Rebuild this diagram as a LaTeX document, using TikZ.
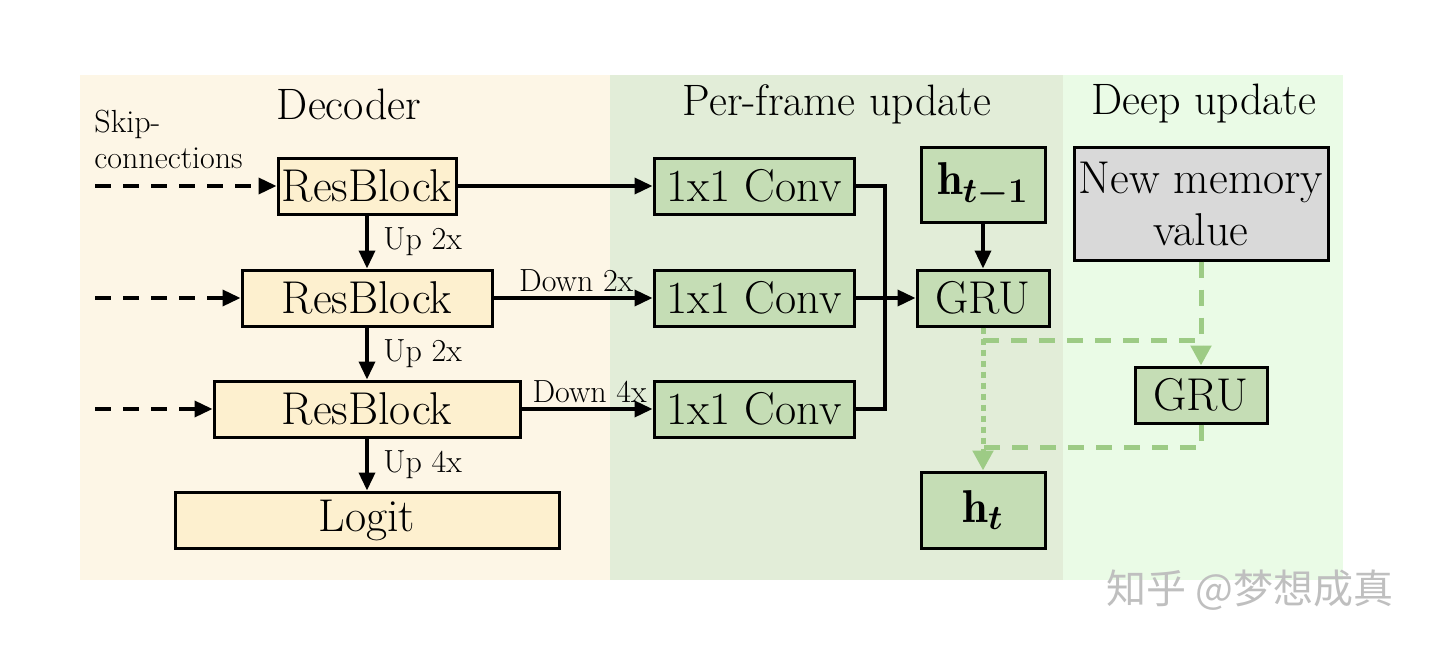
\documentclass[tikz,border=0pt]{standalone}
\usepackage{amsmath,bm}
\usepackage{fontspec}
\newfontfamily\cjk{Noto Sans CJK SC}
\usetikzlibrary{arrows.meta}
\definecolor{decbg}{HTML}{FDF6E6}
\definecolor{perbg}{HTML}{E2EDD8}
\definecolor{deepbg}{HTML}{EAFBE6}
\definecolor{rbfill}{HTML}{FDF0CF}
\definecolor{gfill}{HTML}{C5DDB5}
\definecolor{gline}{HTML}{9DCB85}
\begin{document}
\begin{tikzpicture}[x=0.5pt,y=-0.5pt,
 box/.style={draw=black,line width=1.5pt,inner sep=0pt,font=\fontsize{23}{26}\selectfont},
 rb/.style={box,fill=rbfill},
 gb/.style={box,fill=gfill},
 arr/.style={line width=1.8pt,-{Triangle[length=9pt,width=8pt]}},
 dsh/.style={arr,dash pattern=on 8pt off 6pt},
 gdsh/.style={gline,line width=2.5pt,dash pattern=on 8pt off 6pt},
 lab/.style={font=\fontsize{16}{18}\selectfont},
 ttl/.style={font=\fontsize{22}{24}\selectfont}]
\useasboundingbox (0,0) rectangle (1440,647);
\fill[decbg] (80,75) rectangle (610,580);
\fill[perbg] (610,75) rectangle (1063,580);
\fill[deepbg] (1063,75) rectangle (1343,580);
\node[ttl] (tdec) at (349,104) {Decoder};
\node[ttl] (tper) at (837,104) {Per-frame update};
\node[ttl] (tdeep) at (1204,104) {Deep update};
\node[lab,align=left,anchor=north west,inner sep=0pt] (skip) at (94,110) {Skip-\\connections};
% boxes
\node[rb,minimum width=89pt,minimum height=28pt] (rb1) at (367,186) {ResBlock};
\node[rb,minimum width=125pt,minimum height=28pt] (rb2) at (367,298) {ResBlock};
\node[rb,minimum width=153pt,minimum height=28pt] (rb3) at (367,409) {ResBlock};
\node[rb,minimum width=192pt,minimum height=28pt] (logit) at (367,520) {Logit};
\node[gb,minimum width=100pt,minimum height=28pt] (c1) at (754,186) {1x1 Conv};
\node[gb,minimum width=100pt,minimum height=28pt] (c2) at (754,298) {1x1 Conv};
\node[gb,minimum width=100pt,minimum height=28pt] (c3) at (754,409) {1x1 Conv};
\node[gb,minimum width=62pt,minimum height=37pt] (hp) at (983,185) {$\mathbf{h}_{\bm{t-1}}$};
\node[gb,minimum width=66pt,minimum height=28pt] (gru) at (983,298) {GRU};
\node[gb,minimum width=62pt,minimum height=38pt] (ht) at (983,510) {$\mathbf{h}_{\bm{t}}$};
\node[box,fill=black!15,minimum width=127pt,minimum height=56pt,align=center] (mem) at (1201,204) {New memory\\value};
\node[gb,minimum width=66pt,minimum height=28pt] (gru2) at (1201,395) {GRU};
% skip arrows
\coordinate (s1) at (95,186); \coordinate (s2) at (95,298); \coordinate (s3) at (95,409);
\draw[dsh] (s1) -- (rb1.west);
\draw[dsh] (s2) -- (rb2.west);
\draw[dsh] (s3) -- (rb3.west);
% up arrows
\draw[arr] (rb1.south) -- node[lab,right,xshift=4pt] {Up 2x} (rb2.north);
\draw[arr] (rb2.south) -- node[lab,right,xshift=4pt] {Up 2x} (rb3.north);
\draw[arr] (rb3.south) -- node[lab,right,xshift=4pt] {Up 4x} (logit.north);
% to conv
\draw[arr] (rb1.east) -- (c1.west);
\draw[arr] (rb2.east) -- node[lab,above,pos=0.52,inner sep=2pt] {Down 2x} (c2.west);
\draw[arr] (rb3.east) -- node[lab,above,pos=0.52,inner sep=2pt] {Down 4x} (c3.west);
\coordinate (j1) at (885,186); \coordinate (j3) at (885,409);
\draw[line width=1.8pt] (c1.east) -- (j1) -- (j3) -- (c3.east);
\draw[arr] (c2.east) -- (gru.west);
\draw[arr] (hp.south) -- (gru.north);
% green
\coordinate (g1) at (983,340); \coordinate (g2) at (1201,340);
\coordinate (g3) at (1201,447); \coordinate (g4) at (983,447);
\draw[gdsh,-{Triangle[length=10pt,width=10pt]}] (mem.south) -- (gru2.north);
\draw[gdsh] (g1) -- (g2);
\draw[gdsh] (gru2.south) -- (g3) -- (g4);
\draw[gline,line width=2.5pt,dash pattern=on 3pt off 2.5pt,-{Triangle[length=10pt,width=10pt]}] (gru.south) -- (ht.north);
\node[font=\cjk\fontsize{20}{22}\selectfont,text=black!25] (wm) at (1250,590) {知乎 @梦想成真};
\end{tikzpicture}
\end{document}
